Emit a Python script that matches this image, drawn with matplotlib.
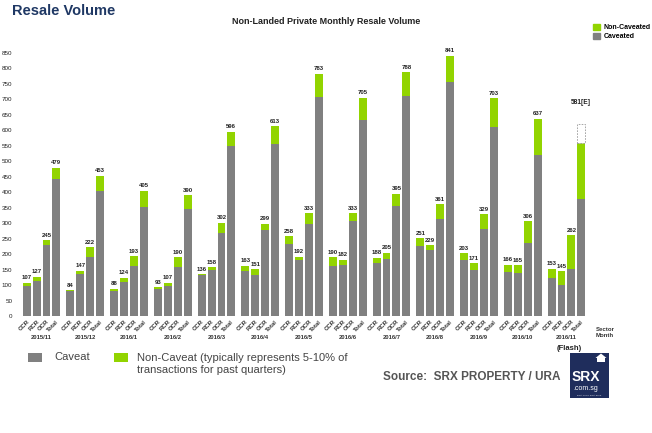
import numpy as np
import matplotlib
matplotlib.use('Agg')
import matplotlib.pyplot as plt
from matplotlib.patches import Rectangle, Polygon, Patch

plt.rcParams['font.family'] = ['Liberation Sans', 'DejaVu Sans']

# data
months = ['2015/11', '2015/12', '2016/1', '2016/2', '2016/3', '2016/4', '2016/5',
          '2016/6', '2016/7', '2016/8', '2016/9', '2016/10', '2016/11']
sectors = ['CCR', 'RCR', 'OCR', 'Total']

ccr_all = [107, 84, 88, 93, 136, 163, 258, 190, 188, 251, 203, 166, 153]
rcr_all = [127, 147, 124, 107, 158, 151, 192, 182, 205, 229, 171, 165, 145]
ocr_all = [245, 222, 193, 190, 302, 299, 333, 333, 395, 361, 329, 306, 262]

ccr_cav = [98, 80, 82, 89, 132, 146, 232, 161, 171, 228, 181, 142, 122]
rcr_cav = [114, 135, 109, 98, 149, 132, 181, 166, 184, 215, 149, 140, 102]
ocr_cav = [230, 190, 163, 160, 269, 278, 296, 308, 355, 314, 280, 237, 153]

flash_label = '581[E]'
flash_est_top = 620

GRAY = '#808080'
GREEN = '#92d400'

fig = plt.figure(figsize=(6.52, 4.33), dpi=100)
ax = fig.add_axes([0.0276, 0.270, 0.877, 0.622])

allv = np.array([ccr_all, rcr_all, ocr_all])
cav = np.array([ccr_cav, rcr_cav, ocr_cav])
allv = np.vstack([allv, allv.sum(axis=0)])
cav = np.vstack([cav, cav.sum(axis=0)])

gstep = 4.42
w = 0.8
xs_all = []
for g in range(len(months)):
    x = g * gstep + np.arange(4)
    xs_all.extend(x)
    ax.bar(x, cav[:, g], width=w, color=GRAY, linewidth=0)
    ax.bar(x, allv[:, g] - cav[:, g], bottom=cav[:, g], width=w, color=GREEN, linewidth=0)
    for j in range(4):
        if g == len(months) - 1 and j == 3:
            continue
        ax.text(x[j], allv[j, g] + 8, str(allv[j, g]), ha='center', va='bottom',
                fontsize=4.3, fontweight='bold', color='#222222')
    # month label under the group
    ax.annotate(months[g], xy=(x[1] + 0.5, 0), xycoords=('data', 'axes fraction'),
                xytext=(0, -13.5), textcoords='offset points', ha='center', va='top',
                fontsize=4.2, fontweight='bold', color='#333333')

# flash estimate dashed box
last_x = (len(months) - 1) * gstep + 3
last_top = allv[3, -1]
ax.add_patch(Rectangle((last_x - w / 2, last_top), w, flash_est_top - last_top,
                       facecolor='white', edgecolor='#999999', linestyle=(0, (2, 1.5)),
                       linewidth=0.6))
ax.text(last_x, 680, flash_label, ha='center', va='bottom', fontsize=4.8,
        fontweight='bold', color='#222222')

ax.set_xlim(-0.88, 56.9)
ax.set_ylim(0, 870)
ax.set_yticks(np.arange(0, 851, 50))
ax.tick_params(axis='y', length=0, labelsize=4.5, pad=4, labelcolor='#222222')
ax.set_xticks(xs_all)
ax.set_xticklabels(sectors * len(months), rotation=45, ha='right',
                   rotation_mode='anchor', fontsize=4.3, fontweight='bold', color='#333333')
ax.tick_params(axis='x', length=0, pad=2)
for s in ax.spines.values():
    s.set_visible(False)

ax.annotate('Sector\nMonth', xy=(1.0, 0), xycoords='axes fraction', xytext=(4, -8),
            textcoords='offset points', ha='left', va='top', fontsize=4.3,
            fontweight='bold', color='#333333', linespacing=1.2)
ax.annotate('(Flash)', xy=(last_x - 1.2, 0), xycoords=('data', 'axes fraction'),
            xytext=(0, -20.5), textcoords='offset points', ha='center', va='top',
            fontsize=5.5, fontweight='bold', color='#222222')

# titles
fig.text(12 / 652, 1 - 11 / 433, 'Resale Volume', fontsize=10.5, fontweight='bold',
         color='#1f3864', ha='left', va='center')
fig.text(326 / 652, 1 - 22 / 433, 'Non-Landed Private Monthly Resale Volume',
         fontsize=6.5, fontweight='bold', color='#222222', ha='center', va='center')

# legend top right
handles = [Patch(color=GREEN, label='Non-Caveated'), Patch(color=GRAY, label='Caveated')]
fig.legend(handles=handles, loc='upper left', bbox_to_anchor=(593 / 652, 1 - 24 / 433),
           frameon=False, handlelength=1.0, handleheight=1.0,
           labelspacing=0.15, handletextpad=0.5, borderaxespad=0, borderpad=0,
           prop={'weight': 'bold', 'size': 5})

# bottom legend
def fpx(x, y):
    return x / 652, 1 - y / 433

fig.patches.append(Rectangle(fpx(28, 362), 14 / 652, 9 / 433, transform=fig.transFigure,
                             facecolor=GRAY, edgecolor='none'))
fig.text(*fpx(54, 357), 'Caveat', fontsize=8, color='#444444', ha='left', va='center')
fig.patches.append(Rectangle(fpx(114, 362), 14 / 652, 9 / 433, transform=fig.transFigure,
                             facecolor=GREEN, edgecolor='none'))
fig.text(*fpx(137, 364), 'Non-Caveat (typically represents 5-10% of\ntransactions for past quarters)',
         fontsize=8, color='#444444', ha='left', va='center', linespacing=1.15)
fig.text(*fpx(383, 377), 'Source:  SRX PROPERTY / URA', fontsize=8.5, fontweight='bold',
         color='#555555', ha='left', va='center')

# SRX logo
NAVY = '#1f2d5c'
fig.patches.append(Rectangle(fpx(570, 398), 39 / 652, 45 / 433, transform=fig.transFigure,
                             facecolor=NAVY, edgecolor='none'))
house = [fpx(597, 362), fpx(597, 358), fpx(595.5, 358), fpx(601, 353.5),
         fpx(606.5, 358), fpx(605, 358), fpx(605, 362)]
fig.patches.append(Polygon(house, closed=True, transform=fig.transFigure,
                           facecolor='white', edgecolor='none'))
fig.text(*fpx(572, 377), 'SRX', fontsize=10, fontweight='bold', color='white',
         ha='left', va='center')
fig.text(*fpx(573, 388), '.com.sg', fontsize=5, color='white', ha='left', va='center')
fig.text(*fpx(589, 395), 'Right Home. Right Price.', fontsize=1.6, color='white',
         ha='center', va='center')

fig.savefig('out.png', dpi=100)
